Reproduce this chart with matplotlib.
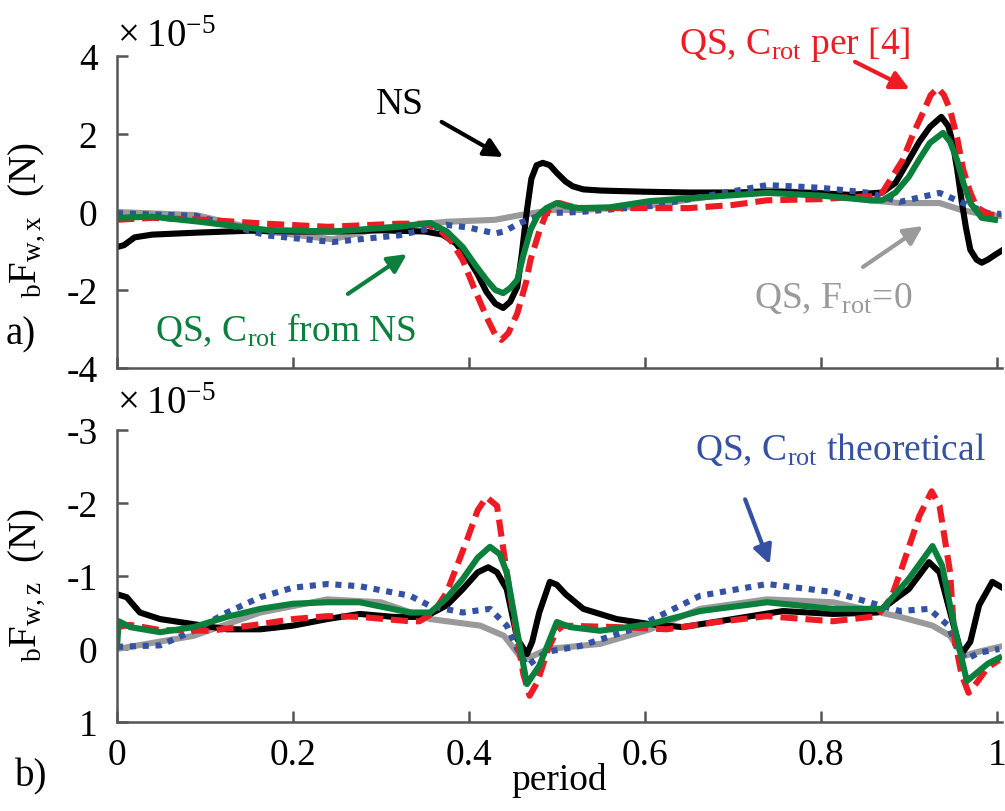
import numpy as np
import matplotlib.pyplot as plt

plt.rcParams['font.family'] = ['Liberation Serif', 'DejaVu Serif']
plt.rcParams['mathtext.fontset'] = 'custom'
plt.rcParams['mathtext.rm'] = 'Liberation Serif'
plt.rcParams['mathtext.it'] = 'Liberation Serif:italic'
plt.rcParams['axes.unicode_minus'] = False
plt.rcParams['font.size'] = 24

# a) F_w,x  (units of 1e-5 N)
ns_x_t = [0.0, 0.008, 0.02, 0.04, 0.09, 0.15, 0.2, 0.25, 0.3, 0.35, 0.37, 0.385, 0.398, 0.41, 0.42, 0.43,
          0.439, 0.447, 0.455, 0.46, 0.466, 0.471, 0.477, 0.484, 0.492, 0.5, 0.51, 0.518, 0.53, 0.55, 0.6, 0.65,
          0.7, 0.75, 0.8, 0.833, 0.87, 0.885, 0.9, 0.912, 0.924, 0.937, 0.945, 0.95, 0.955, 0.96, 0.965,
          0.97, 0.977, 0.983, 0.99, 0.998, 1.005]
ns_y_t = [-0.9, -0.85, -0.65, -0.58, -0.53, -0.48, -0.5, -0.5, -0.47, -0.5, -0.58, -0.8, -1.15, -1.6, -2.05, -2.35,
          -2.46, -2.3, -1.92, -1.1, 0.05, 0.85, 1.2, 1.26, 1.2, 1.0, 0.78, 0.66, 0.58, 0.55, 0.52, 0.5,
          0.5, 0.52, 0.48, 0.44, 0.5, 0.75, 1.33, 1.8, 2.18, 2.44, 2.2, 1.77, 1.1, 0.3, -0.4,
          -0.97, -1.22, -1.3, -1.22, -1.1, -1.0]

per4_x_t = [0.0, 0.04, 0.1, 0.17, 0.24, 0.32, 0.35, 0.367, 0.38, 0.393, 0.405, 0.42, 0.43, 0.437, 0.445, 0.455,
            0.465, 0.47, 0.48, 0.488, 0.495, 0.503, 0.515, 0.53, 0.58, 0.65, 0.7, 0.739, 0.8, 0.833, 0.856,
            0.87, 0.893, 0.905, 0.916, 0.925, 0.933, 0.94, 0.947, 0.955, 0.962, 0.97, 0.977, 0.99, 1.005]
per4_y_t = [-0.2, -0.15, -0.2, -0.3, -0.38, -0.3, -0.3, -0.46, -0.75, -1.23, -1.9, -2.69, -3.15, -3.28, -3.1, -2.6,
            -1.8, -1.23, -0.5, -0.03, 0.15, 0.23, 0.15, 0.1, 0.1, 0.1, 0.18, 0.3, 0.33, 0.38, 0.4,
            0.5, 1.33, 2.0, 2.54, 3.0, 3.18, 3.0, 2.62, 1.9, 1.08, 0.5, 0.13, -0.05, -0.1]

fromns_x_t = [0.0, 0.04, 0.094, 0.17, 0.245, 0.32, 0.356, 0.375, 0.393, 0.407, 0.42, 0.43, 0.439, 0.447, 0.455,
              0.462, 0.47, 0.478, 0.488, 0.5, 0.51, 0.526, 0.56, 0.606, 0.68, 0.739, 0.8, 0.856, 0.87, 0.885,
              0.9, 0.912, 0.924, 0.939, 0.947, 0.955, 0.962, 0.97, 0.983, 0.998]
fromns_y_t = [-0.15, -0.12, -0.25, -0.46, -0.5, -0.38, -0.28, -0.5, -0.9, -1.35, -1.74, -2.0, -2.08, -1.95, -1.74,
              -1.1, -0.46, -0.1, 0.1, 0.23, 0.15, 0.1, 0.12, 0.28, 0.4, 0.49, 0.42, 0.3, 0.3, 0.5,
              0.9, 1.35, 1.77, 2.03, 1.8, 1.33, 0.75, 0.23, -0.15, -0.2]

theo_x_t = [0.0, 0.09, 0.17, 0.245, 0.32, 0.375, 0.4, 0.43, 0.44, 0.458, 0.488, 0.526, 0.606, 0.68, 0.739,
            0.8, 0.856, 0.89, 0.935, 0.962, 0.99, 1.005]
theo_y_t = [-0.03, -0.1, -0.6, -0.77, -0.6, -0.33, -0.4, -0.55, -0.5, -0.28, -0.03, 0.0, 0.15, 0.45, 0.69,
            0.62, 0.49, 0.26, 0.49, 0.23, -0.03, -0.05]

f0_x_t = [0.0, 0.09, 0.17, 0.245, 0.3, 0.375, 0.43, 0.458, 0.495, 0.526, 0.6, 0.68, 0.739, 0.8, 0.856,
          0.89, 0.935, 0.96, 0.99, 1.005]
f0_y_t = [0.0, -0.08, -0.5, -0.7, -0.41, -0.25, -0.2, -0.08, 0.05, 0.05, 0.15, 0.42, 0.56, 0.48, 0.3,
          0.23, 0.23, 0.05, -0.08, -0.1]

# b) F_w,z  (units of 1e-5 N, axis inverted)
ns_x_b = [0.0, 0.011, 0.026, 0.049, 0.087, 0.125, 0.163, 0.2, 0.239, 0.276, 0.314, 0.35, 0.375, 0.393, 0.41,
          0.422, 0.432, 0.443, 0.455, 0.466, 0.472, 0.48, 0.492, 0.5, 0.51, 0.53, 0.568, 0.606, 0.643, 0.7,
          0.757, 0.814, 0.864, 0.9, 0.923, 0.935, 0.95, 0.96, 0.97, 0.98, 0.995, 1.005]
ns_y_b = [-0.75, -0.71, -0.5, -0.41, -0.34, -0.27, -0.27, -0.32, -0.41, -0.48, -0.44, -0.44, -0.6, -0.82, -1.05,
          -1.12, -1.05, -0.82, -0.14, 0.07, -0.1, -0.5, -0.92, -0.88, -0.75, -0.55, -0.41, -0.34, -0.3, -0.41,
          -0.52, -0.48, -0.5, -0.82, -1.19, -1.05, -0.37, 0.07, -0.1, -0.6, -0.92, -0.85]

per4_x_b = [0.0, 0.015, 0.049, 0.106, 0.163, 0.2, 0.239, 0.276, 0.333, 0.344, 0.36, 0.375, 0.398, 0.41, 0.42,
            0.432, 0.443, 0.455, 0.462, 0.469, 0.478, 0.49, 0.5, 0.507, 0.568, 0.625, 0.682, 0.739, 0.814,
            0.864, 0.88, 0.893, 0.912, 0.926, 0.935, 0.947, 0.952, 0.96, 0.968, 0.978, 0.99, 1.003]
per4_y_b = [-0.3, -0.33, -0.26, -0.25, -0.34, -0.41, -0.45, -0.44, -0.38, -0.38, -0.5, -0.78, -1.5, -1.9, -2.08,
            -1.96, -1.05, -0.14, 0.35, 0.64, 0.45, 0.0, -0.25, -0.32, -0.3, -0.27, -0.37, -0.45, -0.38,
            -0.45, -0.7, -1.14, -1.82, -2.16, -1.96, -1.05, -0.14, 0.35, 0.6, 0.45, 0.25, 0.15]

fromns_x_b = [0.0, 0.002, 0.015, 0.049, 0.087, 0.125, 0.163, 0.2, 0.239, 0.276, 0.333, 0.356, 0.375, 0.393,
              0.41, 0.424, 0.435, 0.443, 0.455, 0.466, 0.48, 0.5, 0.515, 0.549, 0.606, 0.663, 0.739, 0.814,
              0.87, 0.9, 0.927, 0.938, 0.95, 0.966, 0.975, 0.99, 1.003]
fromns_y_b = [-0.03, -0.38, -0.3, -0.23, -0.3, -0.44, -0.55, -0.62, -0.64, -0.64, -0.5, -0.5, -0.7, -0.96,
              -1.25, -1.4, -1.3, -1.05, -0.23, 0.48, 0.23, -0.37, -0.3, -0.25, -0.34, -0.52, -0.64, -0.55,
              -0.55, -0.96, -1.41, -1.14, -0.41, 0.44, 0.35, 0.2, 0.12]

theo_x_b = [0.0, 0.049, 0.087, 0.125, 0.163, 0.2, 0.239, 0.276, 0.333, 0.356, 0.393, 0.424, 0.443, 0.455,
            0.466, 0.488, 0.526, 0.586, 0.663, 0.739, 0.814, 0.89, 0.923, 0.945, 0.955, 0.965, 0.98, 1.003]
theo_y_b = [-0.03, -0.05, -0.25, -0.5, -0.71, -0.84, -0.89, -0.86, -0.73, -0.59, -0.5, -0.55, -0.32, 0.0,
            0.23, 0.04, -0.04, -0.27, -0.73, -0.89, -0.78, -0.52, -0.55, -0.32, 0.0, 0.14, 0.05, 0.0]

f0_x_b = [0.0, 0.087, 0.163, 0.239, 0.3, 0.356, 0.413, 0.44, 0.458, 0.47, 0.49, 0.549, 0.606, 0.663, 0.739,
          0.814, 0.89, 0.927, 0.947, 0.962, 0.975, 1.003]
f0_y_b = [0.0, -0.18, -0.5, -0.68, -0.64, -0.41, -0.32, -0.18, 0.1, 0.11, 0.0, -0.07, -0.27, -0.55, -0.68,
          -0.64, -0.44, -0.32, -0.18, 0.1, 0.05, -0.03]

x_ticks = [0, 0.2, 0.4, 0.6, 0.8, 1]
x_tick_labels = ['0', '0.2', '0.4', '0.6', '0.8', '1']

black = 'black'
red = '#ED1C24'
green = '#0B7F3C'
blue = '#3451A3'
grey = '#9A9A9A'
lw = 4.4

fig = plt.figure(figsize=(10.05, 8.12), dpi=100)
ax1 = fig.add_axes([117/1005, 1 - 369/812, 885/1005, 312/812])
ax2 = fig.add_axes([117/1005, 1 - 723/812, 885/1005, 292/812])


def draw(ax, ns, per4, fromns, theo, f0):
    ax.plot(f0[0], f0[1], color=grey, lw=lw, solid_joinstyle='round')
    ax.plot(ns[0], ns[1], color=black, lw=lw, solid_joinstyle='round')
    ax.plot(theo[0], theo[1], color=blue, lw=lw, linestyle=(0, (1.0, 1.1)), dash_capstyle='butt')
    ax.plot(per4[0], per4[1], color=red, lw=lw, linestyle=(0, (2.8, 1.3)), dash_capstyle='butt')
    ax.plot(fromns[0], fromns[1], color=green, lw=lw, solid_joinstyle='round')
    ax.set_xlim(0, 1.006)
    ax.set_xticks(x_ticks)
    for s in ['top', 'right']:
        ax.spines[s].set_visible(False)
    for s in ['left', 'bottom']:
        ax.spines[s].set_color('#555555')
        ax.spines[s].set_linewidth(1.8)
    ax.tick_params(direction='in', length=8, width=1.8, color='#555555', pad=14, labelsize=27)


draw(ax1, (ns_x_t, ns_y_t), (per4_x_t, per4_y_t), (fromns_x_t, fromns_y_t),
     (theo_x_t, theo_y_t), (f0_x_t, f0_y_t))
draw(ax2, (ns_x_b, ns_y_b), (per4_x_b, per4_y_b), (fromns_x_b, fromns_y_b),
     (theo_x_b, theo_y_b), (f0_x_b, f0_y_b))

ax1.set_ylim(-4, 4)
ax1.set_yticks([-4, -2, 0, 2, 4])
ax1.set_yticklabels(['-4', '-2', '0', '2', '4'])
ax1.set_xticklabels([])

ax2.set_ylim(1, -3)
ax2.set_yticks([-3, -2, -1, 0, 1])
ax2.set_yticklabels(['-3', '-2', '-1', '0', '1'])
ax2.set_xticklabels(x_tick_labels)
ax2.tick_params(axis='x', pad=11)
ax2.set_xlabel('period', fontsize=27, labelpad=-7)

fig.text(117/1005, 1 - 47/812, r'$\times\;10^{-5}$', fontsize=28, ha='left', va='baseline')
fig.text(117/1005, 1 - 414/812, r'$\times\;10^{-5}$', fontsize=28, ha='left', va='baseline')
fig.text(27/1005, 1 - 220/812, r'${}_{\rm b}{\rm F}_{\rm w,x}$  (N)', rotation=90, ha='center', va='center', fontsize=28)
fig.text(27/1005, 1 - 585/812, r'${}_{\rm b}{\rm F}_{\rm w,z}$  (N)', rotation=90, ha='center', va='center', fontsize=28)
fig.text(6/1005, 1 - 335/812, 'a)', ha='left', va='center', fontsize=28)
fig.text(15/1005, 1 - 777/812, 'b)', ha='left', va='center', fontsize=28)

arrow = dict(arrowstyle='-|>', lw=3, mutation_scale=28, shrinkA=0, shrinkB=0)

ax1.text(0.322, 2.77, 'NS', color=black, ha='center', va='center', fontsize=27)
ax1.annotate('', xy=(0.439, 1.41), xytext=(0.369, 2.31), arrowprops=dict(arrow, color=black))
ax1.text(0.77, 4.31, r'QS, C$_{\rm rot}$ per [4]', color=red, ha='center', va='center', fontsize=27, clip_on=False)
ax1.annotate('', xy=(0.901, 3.15), xytext=(0.839, 3.85), arrowprops=dict(arrow, color=red))
ax1.text(0.043, -3.0, r'QS, C$_{\rm rot}$ from NS', color=green, ha='left', va='center', fontsize=27)
ax1.annotate('', xy=(0.3295, -1.08), xytext=(0.2625, -2.10), arrowprops=dict(arrow, color=green))
ax1.text(0.9045, -2.18, r'QS, F$_{\rm rot}$=0', color=grey, ha='right', va='center', fontsize=27)
ax1.annotate('', xy=(0.916, -0.36), xytext=(0.848, -1.41), arrowprops=dict(arrow, color=grey))
ax2.text(0.822, -2.74, r'QS, C$_{\rm rot}$ theoretical', color=blue, ha='center', va='center', fontsize=27, clip_on=False)
ax2.annotate('', xy=(0.742, -1.16), xytext=(0.714, -2.05), arrowprops=dict(arrow, color=blue))

fig.savefig('out.png', dpi=100)
